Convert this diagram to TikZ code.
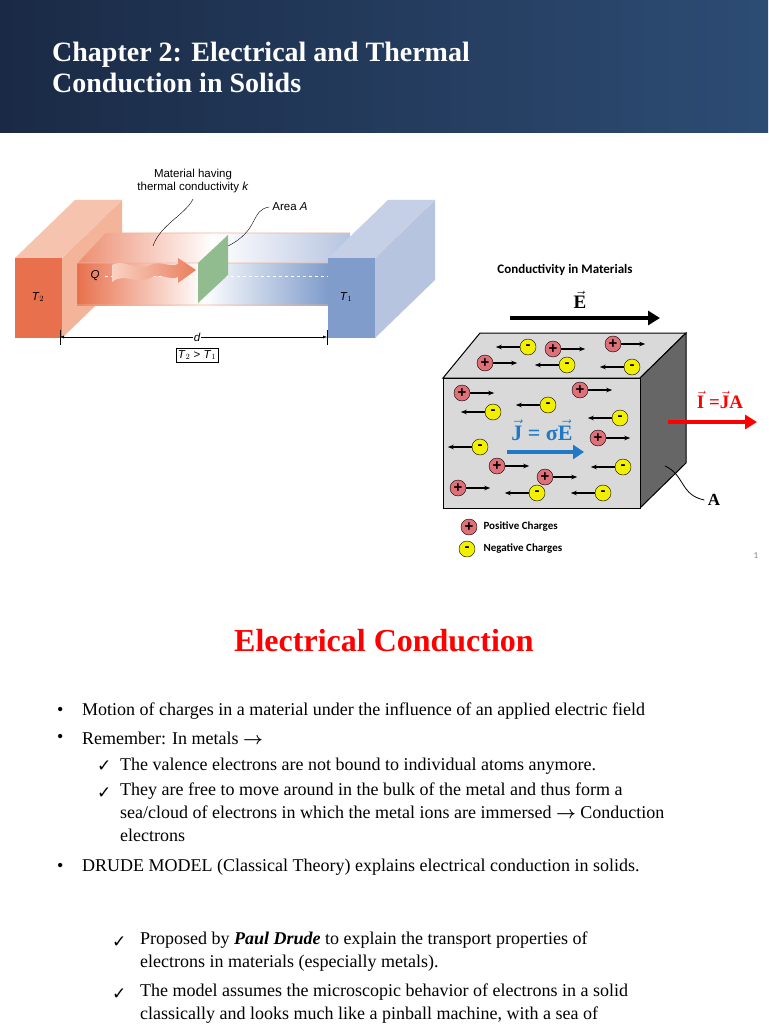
\documentclass[tikz,border=0pt]{standalone}
\usepackage{amsmath,amssymb}
\usepackage{fontspec}
\setmainfont{Liberation Serif}
\newfontfamily\ars{Liberation Sans}
\newfontfamily\calfnt{Carlito}
\newfontfamily\djv{DejaVu Sans}
\usetikzlibrary{arrows.meta}
\definecolor{hot}{HTML}{E8704C}
\definecolor{hotl}{HTML}{F4B49A}
\definecolor{cold}{HTML}{7F9CCB}
\definecolor{coldl}{HTML}{B6C4E0}
\definecolor{pinkc}{HTML}{E07078}
\definecolor{yel}{HTML}{F2F000}
\definecolor{jblue}{HTML}{1F78C8}
\definecolor{navyA}{HTML}{1A2A45}
\definecolor{navyB}{HTML}{2D4C74}
\newcommand{\vb}[1]{$\vec{\text{\textbf{#1}}}$}
\newcommand{\ck}{{\djv\fontsize{17}{17}\selectfont ✓}}
\begin{document}
\begin{tikzpicture}[x=1pt,y=-1pt,
  poschg/.style={circle,draw=black,fill=pinkc,minimum size=16pt,inner sep=0pt,font=\ars\bfseries\fontsize{15}{15}\selectfont},
  negchg/.style={circle,draw=black,fill=yel,minimum size=16pt,inner sep=0pt,font=\ars\bfseries\fontsize{15}{15}\selectfont},
  ch/.style={-{Stealth[length=6pt]},line width=1.1pt},
  body/.style={font=\fontsize{18}{23}\selectfont,anchor=west,inner sep=0pt},
  lab/.style={font=\ars\fontsize{11.5}{13}\selectfont,inner sep=0pt}]
\useasboundingbox (0,0) rectangle (768,1024);
\fill[white] (0,0) rectangle (768,1024);
% banner
\shade[left color=navyA, right color=navyB] (0,0) rectangle (768,133);
\node[anchor=west,text=white,font=\bfseries\fontsize{28}{31}\selectfont,align=left,inner sep=0pt] (title) at (52,67) {Chapter 2: Electrical and Thermal\\Conduction in Solids};
% ===== left figure =====
\fill[hotl] (62,258) -- (122,200) -- (122,280) -- (62,338) -- cycle;
\fill[hotl!80!white] (15,258) -- (75,200) -- (122,200) -- (62,258) -- cycle;
\fill[hot] (15,258) rectangle (62,338);
\shade[left color=hot!80, right color=coldl, middle color=white] (105,233) -- (350,233) -- (350,263) -- (77,263) -- cycle;
\shade[left color=hot, right color=cold, middle color=white] (77,263) rectangle (328,305);
\draw[hotl,line width=0.8pt] (77,263) -- (328,263) (77,305) -- (328,305) (77,263) -- (105,233) -- (350,233);
\draw[white,dashed] (105,276) -- (328,276);
\fill[green!25!gray!70] (198,263) -- (228,235) -- (228,275) -- (198,303) -- cycle;
\shade[left color=hotl!60!white, right color=hot!90] (112,265) .. controls (125,258) and (135,272) .. (150,265) .. controls (160,260) and (170,268) .. (178,264) -- (178,258) -- (196,270) -- (178,283) -- (178,277) .. controls (170,281) and (160,272) .. (150,278) .. controls (135,285) and (125,272) .. (112,282) -- cycle;
\fill[coldl] (375,258) -- (435,200) -- (435,280) -- (375,338) -- cycle;
\fill[coldl!80!white] (328,258) -- (388,200) -- (435,200) -- (375,258) -- cycle;
\fill[cold] (328,258) rectangle (375,338);
\node[lab] (Q) at (95,276) {\itshape Q};
\node[lab] (T2) at (38,297) {\textit{T}$_2$};
\node[lab] (T1) at (346,297) {\textit{T}$_1$};
\node[lab,align=center] (mat) at (193,181) {Material having\\thermal conductivity \textit{k}};
\node[lab] (area) at (290,207) {Area \textit{A}};
\draw (mat.south) ++(0,6) .. controls (185,215) and (160,225) .. (153,246);
\draw (area.west) ++(-3,0) .. controls (250,210) and (260,230) .. (228,246);
\node[lab,fill=white,inner sep=1pt] (d) at (197,337) {\itshape d};
\coordinate (dl) at (60,337); \coordinate (dr) at (327,337);
\draw[-{Latex[length=4pt]}] (d) -- (dl); \draw[-{Latex[length=4pt]}] (d) -- (dr);
\draw (60,330) -- (60,345) (327,330) -- (327,345);
\node[lab,draw,inner sep=2pt] (cmp) at (197,355) {\textit{T}$_2$ > \textit{T}$_1$};
% ===== right figure =====
\node[font=\calfnt\bfseries\fontsize{13}{15}\selectfont] (cim) at (565,270) {Conductivity in Materials};
\node[font=\bfseries\fontsize{19}{19}\selectfont] (El) at (580,300) {\vb{E}};
\coordinate (e1) at (510,318); \coordinate (e2) at (660,318);
\draw[line width=4pt,-{Triangle[length=12pt,width=14pt]}] (e1) -- (e2);
\fill[gray!30,draw=black,line width=1pt] (443,378) -- (480,333) -- (686,333) -- (640,378) -- cycle;
\fill[gray!80!black,draw=black,line width=1pt] (640,378) -- (686,333) -- (686,463) -- (640,508) -- cycle;
\fill[gray!30,draw=black,line width=1pt] (443,378) rectangle (640,508);
\foreach \x/\y [count=\i] in {553/349,613/344,485/363,462/393,580/390,598/438,497/466,545/477,458/488}{
  \node[poschg] (p\i) at (\x,\y) {+};
  \draw[ch] (p\i.east) -- ++(24,0);}
\foreach \x/\y [count=\i] in {528/347,567/365,632/367,548/405,493/412,620/418,480/447,623/467,537/493,603/493}{
  \node[negchg] (n\i) at (\x,\y) {-};
  \draw[ch] (n\i.west) -- ++(-24,0);}
\coordinate (j1) at (507,452); \coordinate (j2) at (584,452);
\draw[jblue,line width=4pt,-{Triangle[length=11pt,width=14pt]}] (j1) -- (j2);
\node[text=jblue,font=\bfseries\fontsize{22}{22}\selectfont] (Jl) at (542,430) {\vb{J} = σ\vb{E}};
\coordinate (i1) at (668,422); \coordinate (i2) at (757,422);
\draw[red,line width=4pt,-{Triangle[length=12pt,width=14pt]}] (i1) -- (i2);
\node[text=red,font=\bfseries\fontsize{19}{19}\selectfont] (Il) at (720,400) {\vb{I} =\vb{J}A};
\node[font=\bfseries\fontsize{17}{17}\selectfont] (Al) at (714,500) {A};
\coordinate (ap) at (665,466);
\draw[line width=0.8pt] (ap) .. controls (685,475) and (680,495) .. (Al.west);
\node[poschg] (lp) at (469,527) {+};
\node[anchor=west,font=\calfnt\bfseries\fontsize{11}{12}\selectfont] (lpt) at (480,527) {Positive Charges};
\node[negchg] (ln) at (467,549) {-};
\node[anchor=west,font=\calfnt\bfseries\fontsize{11}{12}\selectfont] (lnt) at (480,549) {Negative Charges};
\node[font=\calfnt\fontsize{9}{9}\selectfont,text=gray] (pg) at (756,556) {1};
% ===== text =====
\node[text=red,font=\bfseries\fontsize{32}{34}\selectfont] (h) at (384,641) {Electrical Conduction};
\node[body] (b1) at (57,711) {\textbullet};
\node[body] (t1) at (82,711) {Motion of charges in a material under the influence of an applied electric field};
\node[body] (b2) at (57,738) {\textbullet};
\node[body] (t2) at (82,738) {Remember: In metals $\boldsymbol{\rightarrow}$};
\node[body] (c1) at (97,766) {\ck};
\node[body] (u1) at (120,766) {The valence electrons are not bound to individual atoms anymore.};
\node[body] (c2) at (97,793) {\ck};
\node[body,anchor=north west,align=left] (u2) at (120,783) {They are free to move around in the bulk of the metal and thus form a\\sea/cloud of electrons in which the metal ions are immersed $\boldsymbol{\rightarrow}$ Conduction\\electrons};
\node[body] (b3) at (57,867) {\textbullet};
\node[body] (t3) at (82,867) {DRUDE MODEL (Classical Theory) explains electrical conduction in solids.};
\node[body] (c3) at (112,942) {\ck};
\node[body,anchor=north west,align=left] (u3) at (140,932) {Proposed by \textbf{\textit{Paul Drude}} to explain the transport properties of\\electrons in materials (especially metals).};
\node[body] (c4) at (112,994) {\ck};
\node[body,anchor=north west,align=left] (u4) at (140,984) {The model assumes the microscopic behavior of electrons in a solid\\classically and looks much like a pinball machine, with a sea of};
\end{tikzpicture}
\end{document}
